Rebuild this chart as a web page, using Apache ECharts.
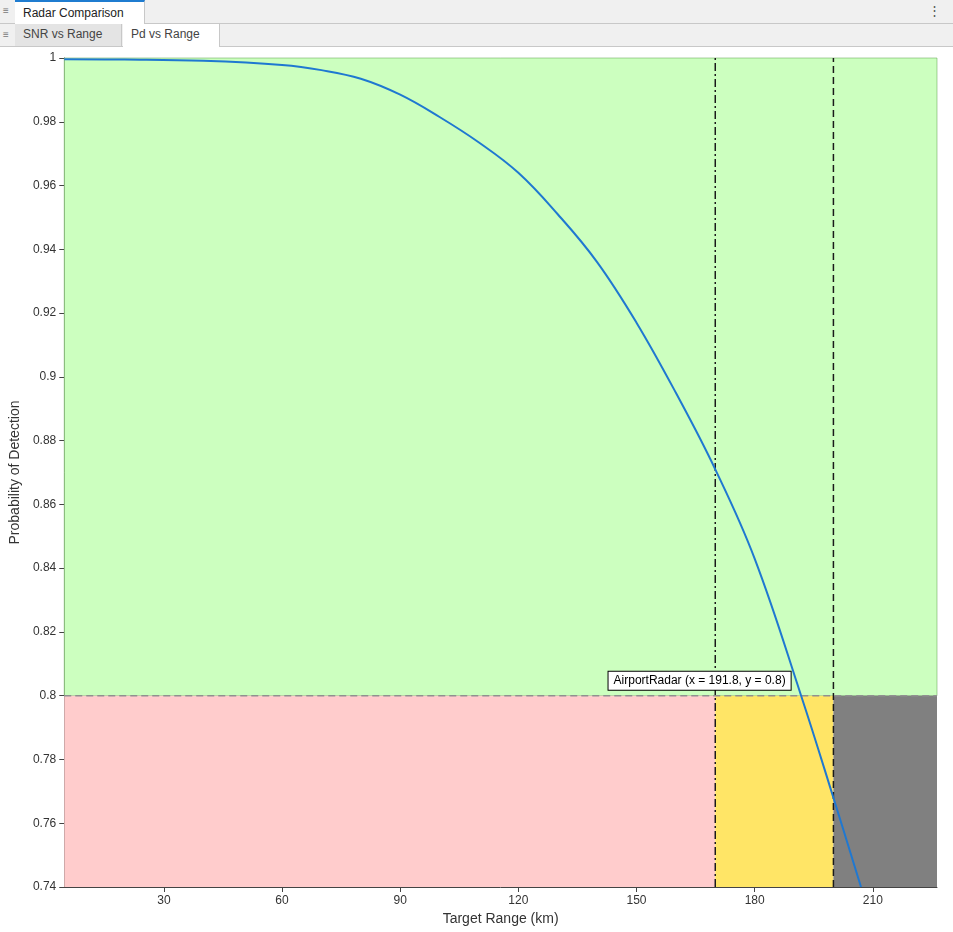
<!DOCTYPE html>
<html><head><meta charset="utf-8">
<script src="https://cdn.jsdelivr.net/npm/echarts@6/dist/echarts.min.js"></script>
<style>
body{margin:0;width:953px;height:932px;overflow:hidden;font-family:Arial,"Liberation Sans",sans-serif;background:#fff}
#bar1{position:absolute;left:0;top:0;width:953px;height:23px;background:#f0f0f0;border-bottom:1px solid #c8c8c8;z-index:2}
#bar2{position:absolute;left:0;top:24px;width:953px;height:22px;background:#f0f0f0;border-bottom:1px solid #c8c8c8;z-index:2}
.tab{position:absolute;font-size:12px;color:#222;box-sizing:border-box;padding-left:8px}
#chart{position:absolute;left:0;top:0;width:953px;height:932px}
</style></head><body>
<div id="bar1">
 <div style="position:absolute;left:3px;top:5px;font-size:10px;color:#777">≡</div>
 <div class="tab" style="left:15px;top:0;width:130px;height:24px;background:#fff;border-top:2px solid #1f7cd0;border-right:1px solid #c8c8c8;line-height:22px">Radar Comparison</div>
 <div style="position:absolute;right:12px;top:3px;font-size:13px;color:#555">⋮</div>
</div>
<div id="bar2">
 <div style="position:absolute;left:3px;top:5px;font-size:10px;color:#777">≡</div>
 <div class="tab" style="left:15px;top:0;width:107px;height:22px;background:#e4e4e4;border-right:1px solid #c8c8c8;line-height:21px;color:#444">SNR vs Range</div>
 <div class="tab" style="left:123px;top:0;width:97px;height:23px;background:#fff;border-right:1px solid #c8c8c8;line-height:21px;color:#444">Pd vs Range</div>
</div>
<div id="chart"></div>
<script>
const rangeKm = [4.7, 20, 40, 60, 70, 80, 90, 100, 110, 120, 130, 140, 150, 160, 170, 180, 191.8, 200, 207];
const pdAirport = [0.9996, 0.9995, 0.9991, 0.9978, 0.9962, 0.9935, 0.9885, 0.9815, 0.9735, 0.964, 0.951, 0.936, 0.917, 0.895, 0.871, 0.843, 0.800, 0.768, 0.74];
const xTicks = [30, 60, 90, 120, 150, 180, 210];
const thresholdRange = 170, objectiveRange = 200, pdReq = 0.8;
const xMin = 4.7, xMax = 226.3, yMin = 0.74, yMax = 1;
const annot = {x: 191.8, y: 0.8, text: 'AirportRadar (x = 191.8, y = 0.8)'};

const chart = echarts.init(document.getElementById('chart'));
const vline = (x) => [[x, yMin], [x, yMax]];
chart.setOption({
  animation: false,
  grid: {left: 62, right: 16, top: 58, bottom: 45},
  xAxis: {type: 'value', min: xMin, max: xMax, name: 'Target Range (km)', nameLocation: 'middle', nameGap: 25,
    nameTextStyle: {fontSize: 14, color: '#333'},
    axisLine: {lineStyle: {color: '#444'}}, splitLine: {show: false},
    axisTick: {customValues: xTicks, lineStyle: {color: '#444'}},
    axisLabel: {customValues: xTicks, color: '#333', fontSize: 12}},
  yAxis: {type: 'value', min: yMin, max: yMax, interval: 0.02, name: 'Probability of Detection', nameLocation: 'middle', nameGap: 42,
    nameTextStyle: {fontSize: 14, color: '#333'},
    axisLine: {show: true, lineStyle: {color: '#444'}}, splitLine: {show: false},
    axisTick: {show: true, lineStyle: {color: '#444'}},
    axisLabel: {color: '#333', fontSize: 12, formatter: v => String(+v.toFixed(2))}},
  series: [
    {type: 'line', data: [], silent: true, markArea: {silent: true, data: [
      [{coord: [xMin, pdReq], itemStyle: {color: '#ccffbf', borderColor: '#5a9e4a', borderWidth: 0.5}}, {coord: [xMax, yMax]}],
      [{coord: [xMin, yMin], itemStyle: {color: '#ffcccc'}}, {coord: [thresholdRange, pdReq]}],
      [{coord: [thresholdRange, yMin], itemStyle: {color: '#ffe566'}}, {coord: [objectiveRange, pdReq]}],
      [{coord: [objectiveRange, yMin], itemStyle: {color: '#808080'}}, {coord: [xMax, pdReq]}]
    ]}},
    {name: 'Threshold Max Range', type: 'line', data: vline(thresholdRange), symbol: 'none', lineStyle: {color: '#1a1a1a', width: 1.5, type: [8, 3, 2, 3]}},
    {name: 'Objective Max Range', type: 'line', data: vline(objectiveRange), symbol: 'none', lineStyle: {color: '#1a1a1a', width: 1.5, type: [7, 4]}},
    {name: 'Pd', type: 'line', data: [[xMin, pdReq], [xMax, pdReq]], symbol: 'none', lineStyle: {color: '#909090', width: 1.5, type: [7, 4]}},
    {name: 'AirportRadar', type: 'line', data: rangeKm.map((x, i) => [x, pdAirport[i]]), symbol: 'none', smooth: 0.4,
      lineStyle: {color: '#1f78d1', width: 2}, z: 5,
      markPoint: {symbol: 'circle', symbolSize: 1, itemStyle: {color: 'transparent'},
        data: [{coord: [annot.x, annot.y], label: {show: true, formatter: annot.text, position: 'left', offset: [-5, -15],
          color: '#000', fontSize: 12, backgroundColor: '#fff', borderColor: '#000', borderWidth: 1, padding: [3, 5]}}]}}
  ],
  graphic: [{type: 'group', left: 78, top: 797, children: [
    {type: 'rect', shape: {x: 0, y: 0, width: 151, height: 74}, style: {fill: '#fff', stroke: '#000', lineWidth: 1}},
    {type: 'line', shape: {x1: 5, y1: 12, x2: 38, y2: 12}, style: {stroke: '#1a1a1a', lineWidth: 1.5, lineDash: [6, 3, 2, 3]}},
    {type: 'text', style: {x: 40, y: 6, text: 'Threshold Max Range', fontSize: 10, fill: '#000'}},
    {type: 'line', shape: {x1: 5, y1: 29, x2: 38, y2: 29}, style: {stroke: '#1a1a1a', lineWidth: 1.5, lineDash: [6, 3]}},
    {type: 'text', style: {x: 40, y: 23, text: 'Objective Max Range', fontSize: 10, fill: '#000'}},
    {type: 'line', shape: {x1: 5, y1: 46, x2: 38, y2: 46}, style: {stroke: '#909090', lineWidth: 1.5, lineDash: [6, 3]}},
    {type: 'text', style: {x: 40, y: 40, text: 'Pd', fontSize: 10, fill: '#000'}},
    {type: 'line', shape: {x1: 5, y1: 63, x2: 38, y2: 63}, style: {stroke: '#1f78d1', lineWidth: 1.5}},
    {type: 'text', style: {x: 40, y: 57, text: 'AirportRadar', fontSize: 10, fill: '#000'}}
  ]}]
});
</script></body></html>
